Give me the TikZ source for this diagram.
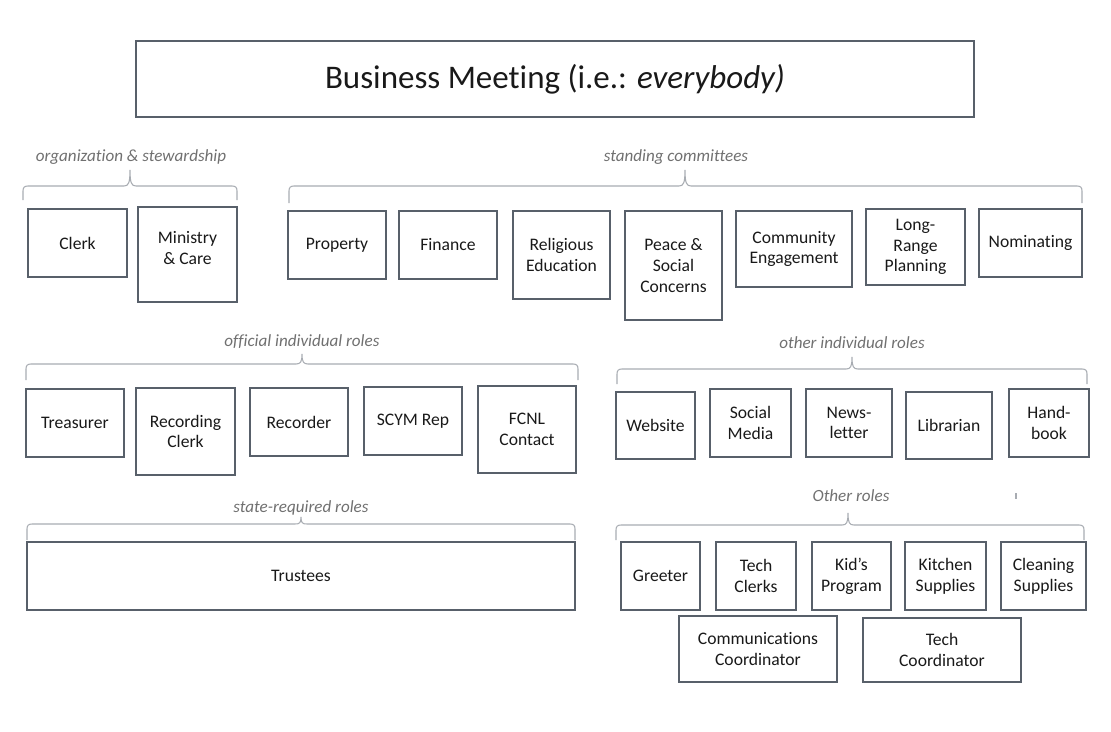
\documentclass[tikz,border=0pt]{standalone}
\usepackage{fontspec}
\setmainfont{Carlito}[Ligatures=NoCommon]
\definecolor{boxline}{RGB}{88,96,106}
\definecolor{braceline}{RGB}{168,172,178}
\definecolor{grouptext}{RGB}{112,112,112}
\definecolor{boxtext}{RGB}{25,25,25}
\tikzset{
  role/.style 2 args={draw=boxline, line width=1.1pt, inner sep=0pt, align=center,
    text=boxtext, font=\fontsize{13.2}{15.6}\selectfont,
    minimum width=#1*0.75pt, minimum height=#2*0.75pt},
  grouplabel/.style={inner sep=0.75pt, text=grouptext, font=\fontsize{12.8}{15}\selectfont\itshape},
  brace/.style={draw=braceline, line width=0.8pt}
}
\begin{document}
\begin{tikzpicture}[x=0.75pt,y=0.75pt,yscale=-1,xscale=1]
\useasboundingbox (0,0) rectangle (1111,732);

%Shape: Rectangle [title]
\node [role={838}{76}, font=\fontsize{24.75}{29}\selectfont] (meeting) at (555,79) {Business Meeting (i.e.: \textit{everybody)}};

%Shape: Brace [organization]
\draw [brace] (23,200) -- (23,191) .. controls (23,187.5) and (24.5,186) .. (28,186) -- (124,186) .. controls (128.5,186) and (130,183) .. (130,170) .. controls (130,183) and (131.5,186) .. (136,186) -- (232,186) .. controls (235.5,186) and (237,187.5) .. (237,191) -- (237,200) ;
%Shape: Brace [standing]
\draw [brace] (289,203) -- (289,191) .. controls (289,187.5) and (290.5,186) .. (294,186) -- (679,186) .. controls (683.5,186) and (685,183) .. (685,170) .. controls (685,183) and (686.5,186) .. (691,186) -- (1077,186) .. controls (1080.5,186) and (1082,187.5) .. (1082,191) -- (1082,203) ;
%Shape: Brace [official]
\draw [brace] (26,380) -- (26,369) .. controls (26,365.5) and (27.5,364) .. (31,364) -- (296,364) .. controls (300.5,364) and (302,362) .. (302,354) .. controls (302,362) and (303.5,364) .. (308,364) -- (573,364) .. controls (576.5,364) and (578,365.5) .. (578,369) -- (578,380) ;
%Shape: Brace [other individual]
\draw [brace] (617,384) -- (617,374) .. controls (617,370.5) and (618.5,369) .. (622,369) -- (846,369) .. controls (850.5,369) and (852,367) .. (852,357) .. controls (852,367) and (853.5,369) .. (858,369) -- (1082,369) .. controls (1085.5,369) and (1087,370.5) .. (1087,374) -- (1087,384) ;
%Shape: Brace [state]
\draw [brace] (27,540) -- (27,529) .. controls (27,525.5) and (28.5,524) .. (32,524) -- (295,524) .. controls (299.5,524) and (301,523) .. (301,517) .. controls (301,523) and (302.5,524) .. (307,524) -- (570,524) .. controls (573.5,524) and (575,525.5) .. (575,529) -- (575,540) ;
%Shape: Brace [other roles]
\draw [brace] (616,540) -- (616,530) .. controls (616,526.5) and (617.5,525) .. (621,525) -- (842,525) .. controls (846.5,525) and (848,523) .. (848,513) .. controls (848,523) and (849.5,525) .. (854,525) -- (1079,525) .. controls (1082.5,525) and (1084,526.5) .. (1084,530) -- (1084,540) ;
%Straight Lines [stray tick]
\draw [brace]  (1016,493) -- (1016,499) ;

% Text Node
\node [grouplabel] (lblorg) at (131,157) {organization \& stewardship};
% Text Node
\node [grouplabel] (lblstanding) at (676,157) {standing committees};
% Text Node
\node [grouplabel] (lblofficial) at (302,342) {official individual roles};
% Text Node
\node [grouplabel] (lblotherind) at (852,343) {other individual roles};
% Text Node
\node [grouplabel] (lblstate) at (301,508) {state-required roles};
% Text Node
\node [grouplabel] (lblother) at (851,496) {Other roles};

%Shape: Rectangle [organization & stewardship]
\node [role={99}{68}] (clerk) at (77.5,243) {Clerk};
\node [role={99}{95}] (ministry) at (187.5,254.5) {Ministry\\\& Care\\[-5.7pt]};

%Shape: Rectangle [standing committees]
\node [role={98}{68}] (property) at (337,245) {Property};
\node [role={98}{68}] (finance) at (448,245) {Finance};
\node [role={97}{88}] (religious) at (561.5,255) {Religious\\Education};
\node [role={97}{109}] (peace) at (673.5,265.5) {Peace \&\\Social\\Concerns};
\node [role={116}{76}] (community) at (794,249) {Community\\Engagement};
\node [role={99}{76}] (longrange) at (915.5,247) {Long-\\Range\\Planning};
\node [role={103}{68}] (nominating) at (1030.5,243) {Nominating};

%Shape: Rectangle [official individual roles]
\node [role={98}{68}] (treasurer) at (75,423) {Treasurer};
\node [role={99}{87}] (recclerk) at (185.5,431.5) {Recording\\Clerk};
\node [role={98}{68}] (recorder) at (299,422) {Recorder};
\node [role={98}{68}] (scym) at (413,421) {SCYM Rep};
\node [role={98}{87}] (fcnl) at (527,429.5) {FCNL\\Contact};

%Shape: Rectangle [other individual roles]
\node [role={79}{67}] (website) at (655.5,425.5) {Website};
\node [role={81}{68}] (socialmedia) at (750.5,423) {Social\\Media};
\node [role={86}{68}] (newsletter) at (849,423) {News-\\letter};
\node [role={86}{67}] (librarian) at (949,425.5) {Librarian};
\node [role={80}{68}] (handbook) at (1049,423) {Hand-\\book};

%Shape: Rectangle [state-required roles]
\node [role={548}{68}] (trustees) at (301,576) {Trustees};

%Shape: Rectangle [other roles]
\node [role={79}{68}] (greeter) at (660.5,576) {Greeter};
\node [role={80}{68}] (techclerks) at (756,576) {Tech\\Clerks};
\node [role={79}{68}] (kids) at (851.5,576) {Kid’s\\Program};
\node [role={81}{68}] (kitchen) at (945.5,576) {Kitchen\\Supplies};
\node [role={85}{68}] (cleaning) at (1043.5,576) {Cleaning\\Supplies};
\node [role={158}{66}] (comms) at (758,649) {Communications\\Coordinator};
\node [role={158}{64}] (techcoord) at (942,650) {Tech\\Coordinator};

\end{tikzpicture}
\end{document}
